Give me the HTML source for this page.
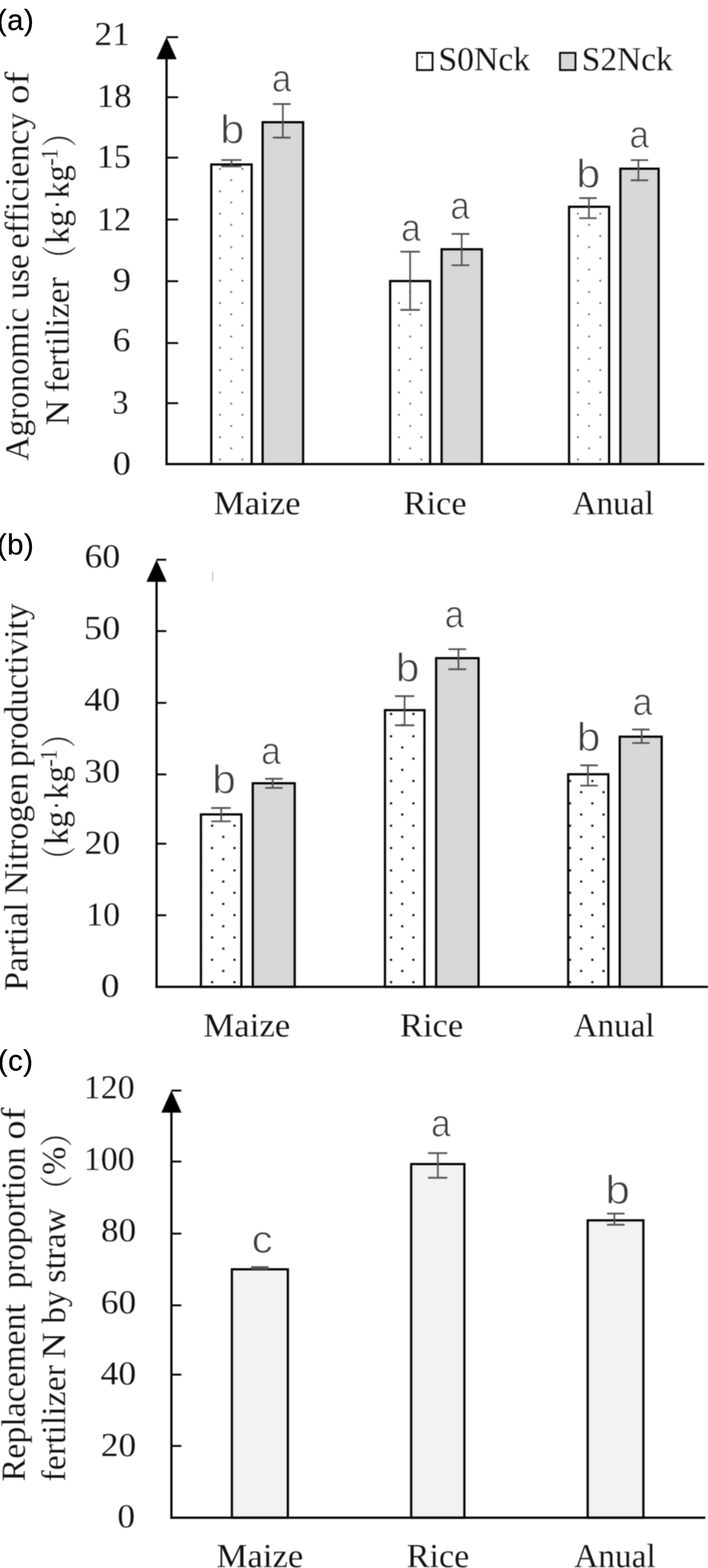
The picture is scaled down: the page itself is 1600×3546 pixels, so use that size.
<!DOCTYPE html>
<html lang="en">
<head>
<meta charset="utf-8">
<title>Nitrogen use efficiency charts</title>
<style>
html,body{margin:0;padding:0;background:#fff;}
body{width:1600px;height:3546px;overflow:hidden;}
svg{display:block;}
</style>
</head>
<body>
<svg width="1600" height="3546" viewBox="0 0 1600 3546">
<defs>
<pattern id="dots" patternUnits="userSpaceOnUse" x="495.1" y="380" width="50.55" height="50.55">
<rect x="0.2" y="0.2" width="3.8" height="3.8" fill="#5a5a5a"/>
<rect x="25.48" y="25.48" width="3.8" height="3.8" fill="#5a5a5a"/>
</pattern>
<pattern id="dotsb" patternUnits="userSpaceOnUse" x="476.8" y="1864.8" width="50.55" height="50.55">
<rect x="0" y="0" width="5" height="5" rx="1.5" fill="#0c0c0c"/>
<rect x="25.28" y="25.28" width="5" height="5" rx="1.5" fill="#0c0c0c"/>
</pattern>
<filter id="soft" filterUnits="userSpaceOnUse" x="0" y="0" width="1600" height="3546" color-interpolation-filters="sRGB">
<feGaussianBlur stdDeviation="0.9"/>
</filter>
</defs>
<rect width="1600" height="3546" fill="#fff"/>
<g filter="url(#soft)">
<rect width="1600" height="3546" fill="#fff"/>

<g id="panel-a">
<text transform="translate(64,1042.21) rotate(-90) scale(0.7603,0.7600)" font-family='"Liberation Serif", serif' font-size="100" fill="#101010" stroke="#fff" stroke-width="0.3" stroke-linejoin="round" vector-effect="non-scaling-stroke">Agronomic</text>
<text transform="translate(64,676.3) rotate(-90) scale(0.7635,0.7600)" font-family='"Liberation Serif", serif' font-size="100" fill="#101010" stroke="#fff" stroke-width="0.3" stroke-linejoin="round" vector-effect="non-scaling-stroke">use</text>
<text transform="translate(64,561.94) rotate(-90) scale(0.7726,0.7600)" font-family='"Liberation Serif", serif' font-size="100" fill="#101010" stroke="#fff" stroke-width="0.3" stroke-linejoin="round" vector-effect="non-scaling-stroke">efficiency</text>
<text transform="translate(64,235.56) rotate(-90) scale(0.8830,0.7600)" font-family='"Liberation Serif", serif' font-size="100" fill="#101010" stroke="#fff" stroke-width="0.3" stroke-linejoin="round" vector-effect="non-scaling-stroke">of</text>
<text transform="translate(155,962.07) rotate(-90) scale(0.8059,0.7600)" font-family='"Liberation Serif", serif' font-size="100" fill="#101010" stroke="#fff" stroke-width="0.3" stroke-linejoin="round" vector-effect="non-scaling-stroke">N</text>
<text transform="translate(155,887.42) rotate(-90) scale(0.7565,0.7600)" font-family='"Liberation Serif", serif' font-size="100" fill="#101010" stroke="#fff" stroke-width="0.3" stroke-linejoin="round" vector-effect="non-scaling-stroke">fertilizer</text>
<text transform="translate(164.14,616.87) rotate(-90) scale(0.6226,0.8064)" font-family='"Liberation Serif", "Noto Serif CJK SC", serif' font-size="100" fill="#1c1c1c" stroke="#fff" stroke-width="0.4" stroke-linejoin="round" vector-effect="non-scaling-stroke">（</text>
<text transform="translate(155,551.69) rotate(-90) scale(0.7677,0.7600)" font-family='"Liberation Serif", serif' font-size="100" fill="#101010" stroke="#fff" stroke-width="0.3" stroke-linejoin="round" vector-effect="non-scaling-stroke">kg</text>
<text transform="translate(155,470.96) rotate(-90) scale(0.4936,0.7600)" font-family='"Liberation Serif", serif' font-size="100" fill="#101010" stroke="#fff" stroke-width="0.3" stroke-linejoin="round" vector-effect="non-scaling-stroke">·</text>
<text transform="translate(155,448.66) rotate(-90) scale(0.7531,0.7600)" font-family='"Liberation Serif", serif' font-size="100" fill="#101010" stroke="#fff" stroke-width="0.3" stroke-linejoin="round" vector-effect="non-scaling-stroke">kg</text>
<text transform="translate(130.5,375.81) rotate(-90) scale(0.5500,0.5200)" font-family='"Liberation Serif", serif' font-size="100" fill="#101010" stroke="#fff" stroke-width="0.3" stroke-linejoin="round" vector-effect="non-scaling-stroke">-</text>
<text transform="translate(130.15,360.44) rotate(-90) scale(0.4908,0.5455)" font-family='"Liberation Serif", serif' font-size="100" fill="#101010" stroke="#fff" stroke-width="0.3" stroke-linejoin="round" vector-effect="non-scaling-stroke">1</text>
<text transform="translate(164.14,332.42) rotate(-90) scale(0.6748,0.8064)" font-family='"Liberation Serif", "Noto Serif CJK SC", serif' font-size="100" fill="#1c1c1c" stroke="#fff" stroke-width="0.4" stroke-linejoin="round" vector-effect="non-scaling-stroke">）</text>
<text transform="translate(213.45,101.5) scale(0.8000,0.7600)" font-family='"Liberation Serif", serif' font-size="100" fill="#101010" stroke="#fff" stroke-width="0.3" stroke-linejoin="round" vector-effect="non-scaling-stroke">21</text>
<text transform="translate(218.44,242.3) scale(0.7897,0.7600)" font-family='"Liberation Serif", serif' font-size="100" fill="#101010" stroke="#fff" stroke-width="0.3" stroke-linejoin="round" vector-effect="non-scaling-stroke">18</text>
<text transform="translate(218.59,379) scale(0.7725,0.7600)" font-family='"Liberation Serif", serif' font-size="100" fill="#101010" stroke="#fff" stroke-width="0.3" stroke-linejoin="round" vector-effect="non-scaling-stroke">15</text>
<text transform="translate(218.47,520.6) scale(0.7860,0.7600)" font-family='"Liberation Serif", serif' font-size="100" fill="#101010" stroke="#fff" stroke-width="0.3" stroke-linejoin="round" vector-effect="non-scaling-stroke">12</text>
<text transform="translate(254.66,657.5) scale(0.8281,0.7600)" font-family='"Liberation Serif", serif' font-size="100" fill="#101010" stroke="#fff" stroke-width="0.3" stroke-linejoin="round" vector-effect="non-scaling-stroke">9</text>
<text transform="translate(254.6,793.5) scale(0.8117,0.7600)" font-family='"Liberation Serif", serif' font-size="100" fill="#101010" stroke="#fff" stroke-width="0.3" stroke-linejoin="round" vector-effect="non-scaling-stroke">6</text>
<text transform="translate(253.87,935) scale(0.7321,0.7600)" font-family='"Liberation Serif", serif' font-size="100" fill="#101010" stroke="#fff" stroke-width="0.3" stroke-linejoin="round" vector-effect="non-scaling-stroke">3</text>
<text transform="translate(254.77,1073) scale(0.8212,0.7600)" font-family='"Liberation Serif", serif' font-size="100" fill="#101010" stroke="#fff" stroke-width="0.3" stroke-linejoin="round" vector-effect="non-scaling-stroke">0</text>
<rect x="477.5" y="372" width="91.2" height="677.6" fill="#fff"/>
<rect x="477.5" y="372" width="91.2" height="677.6" fill="url(#dots)" stroke="#000" stroke-width="5.0"/>
<rect x="593.5" y="276.4" width="91.5" height="773.2" fill="#d8d8d8" stroke="#000" stroke-width="5.0"/>
<rect x="881.7" y="635.6" width="90.3" height="414.0" fill="#fff"/>
<rect x="881.7" y="635.6" width="90.3" height="414.0" fill="url(#dots)" stroke="#000" stroke-width="5.0"/>
<rect x="998" y="563.7" width="91.0" height="485.9" fill="#d8d8d8" stroke="#000" stroke-width="5.0"/>
<rect x="1286" y="467.6" width="90.5" height="582.0" fill="#fff"/>
<rect x="1286" y="467.6" width="90.5" height="582.0" fill="url(#dots)" stroke="#000" stroke-width="5.0"/>
<rect x="1402" y="381.5" width="86.4" height="668.1" fill="#d8d8d8" stroke="#000" stroke-width="5.0"/>
<line x1="376.4" y1="132" x2="376.4" y2="1052.1" stroke="#000" stroke-width="5.0"/>
<line x1="373.9" y1="1049.6" x2="1591.5" y2="1049.6" stroke="#000" stroke-width="5.0"/>
<polygon points="376.4,84 353.59999999999997,134 399.2,134" fill="#000"/>
<line x1="376.4" y1="219.9" x2="402.59999999999997" y2="219.9" stroke="#000" stroke-width="4.2"/>
<line x1="376.4" y1="356.5" x2="402.59999999999997" y2="356.5" stroke="#000" stroke-width="4.2"/>
<line x1="376.4" y1="496.5" x2="402.59999999999997" y2="496.5" stroke="#000" stroke-width="4.2"/>
<line x1="376.4" y1="635.9" x2="402.59999999999997" y2="635.9" stroke="#000" stroke-width="4.2"/>
<line x1="376.4" y1="775.8" x2="402.59999999999997" y2="775.8" stroke="#000" stroke-width="4.2"/>
<line x1="376.4" y1="911.8" x2="402.59999999999997" y2="911.8" stroke="#000" stroke-width="4.2"/>
<line x1="376.4" y1="84" x2="402.59999999999997" y2="84" stroke="#000" stroke-width="4.2"/>
<path d="M500.3,361.9H545.7M500.3,376.4H545.7" stroke="#505050" stroke-width="3.9" fill="none"/>
<path d="M523.1,361.9V376.4" stroke="#505050" stroke-width="3.7" fill="none"/>
<path d="M616.6,235.3H656.9M616.6,311.2H656.9" stroke="#505050" stroke-width="3.9" fill="none"/>
<path d="M639.2,235.3V311.2" stroke="#505050" stroke-width="3.7" fill="none"/>
<path d="M904.7,569.3H949M904.7,700.8H949" stroke="#505050" stroke-width="3.9" fill="none"/>
<path d="M926.8,569.3V700.8" stroke="#505050" stroke-width="3.7" fill="none"/>
<path d="M1020.6,529H1060.9M1020.6,599.9H1060.9" stroke="#505050" stroke-width="3.9" fill="none"/>
<path d="M1043.4,529V599.9" stroke="#505050" stroke-width="3.7" fill="none"/>
<path d="M1309.1,448H1348.3M1309.1,493.4H1348.3" stroke="#505050" stroke-width="3.9" fill="none"/>
<path d="M1330.9,448V493.4" stroke="#505050" stroke-width="3.7" fill="none"/>
<path d="M1425.5,362.1H1464.6M1425.5,407.7H1464.6" stroke="#505050" stroke-width="3.9" fill="none"/>
<path d="M1442.7,362.1V407.7" stroke="#505050" stroke-width="3.7" fill="none"/>
<text transform="translate(497.6,323.6) scale(0.9844,0.9048)" font-family='"Liberation Sans", sans-serif' font-size="100" fill="#3c3c3c" stroke="#fff" stroke-width="2.0" stroke-linejoin="round" vector-effect="non-scaling-stroke">b</text>
<text transform="translate(614.22,207.34) scale(0.7942,0.8621)" font-family='"Liberation Sans", sans-serif' font-size="100" fill="#3c3c3c" stroke="#fff" stroke-width="2.0" stroke-linejoin="round" vector-effect="non-scaling-stroke">a</text>
<text transform="translate(906.37,545.24) scale(0.8078,0.8621)" font-family='"Liberation Sans", sans-serif' font-size="100" fill="#3c3c3c" stroke="#fff" stroke-width="2.0" stroke-linejoin="round" vector-effect="non-scaling-stroke">a</text>
<text transform="translate(1017.65,495.34) scale(0.7883,0.8621)" font-family='"Liberation Sans", sans-serif' font-size="100" fill="#3c3c3c" stroke="#fff" stroke-width="2.0" stroke-linejoin="round" vector-effect="non-scaling-stroke">a</text>
<text transform="translate(1302.14,424.4) scale(0.9778,0.9048)" font-family='"Liberation Sans", sans-serif' font-size="100" fill="#3c3c3c" stroke="#fff" stroke-width="2.0" stroke-linejoin="round" vector-effect="non-scaling-stroke">b</text>
<text transform="translate(1422.62,333.84) scale(0.7961,0.8621)" font-family='"Liberation Sans", sans-serif' font-size="100" fill="#3c3c3c" stroke="#fff" stroke-width="2.0" stroke-linejoin="round" vector-effect="non-scaling-stroke">a</text>
<text transform="translate(483.09,1162.6) scale(0.7852,0.7600)" font-family='"Liberation Serif", serif' font-size="100" fill="#101010" stroke="#fff" stroke-width="0.3" stroke-linejoin="round" vector-effect="non-scaling-stroke">Maize</text>
<text transform="translate(911.71,1162.6) scale(0.7791,0.7600)" font-family='"Liberation Serif", serif' font-size="100" fill="#101010" stroke="#fff" stroke-width="0.3" stroke-linejoin="round" vector-effect="non-scaling-stroke">Rice</text>
<text transform="translate(1293.4,1162.6) scale(0.7544,0.7600)" font-family='"Liberation Serif", serif' font-size="100" fill="#101010" stroke="#fff" stroke-width="0.3" stroke-linejoin="round" vector-effect="non-scaling-stroke">Anual</text>
<rect x="942.5" y="119.5" width="35" height="39" fill="#fff" stroke="#000" stroke-width="4"/>
<rect x="952" y="127" width="3.5" height="3.5" fill="#444"/>
<text transform="translate(990.71,159.4) scale(0.7620,0.7600)" font-family='"Liberation Serif", serif' font-size="100" fill="#101010" stroke="#fff" stroke-width="0.3" stroke-linejoin="round" vector-effect="non-scaling-stroke">S0Nck</text>
<rect x="1265.5" y="119.5" width="35" height="39" fill="#d9d9d9" stroke="#000" stroke-width="4"/>
<text transform="translate(1314.76,159.4) scale(0.7544,0.7600)" font-family='"Liberation Serif", serif' font-size="100" fill="#101010" stroke="#fff" stroke-width="0.3" stroke-linejoin="round" vector-effect="non-scaling-stroke">S2Nck</text>
</g>
<g id="panel-b">
<text transform="translate(62,2240.65) rotate(-90) scale(0.7645,0.7600)" font-family='"Liberation Serif", serif' font-size="100" fill="#101010" stroke="#fff" stroke-width="0.3" stroke-linejoin="round" vector-effect="non-scaling-stroke">Partial</text>
<text transform="translate(62,2024.09) rotate(-90) scale(0.7775,0.7600)" font-family='"Liberation Serif", serif' font-size="100" fill="#101010" stroke="#fff" stroke-width="0.3" stroke-linejoin="round" vector-effect="non-scaling-stroke">Nitrogen</text>
<text transform="translate(62,1734.69) rotate(-90) scale(0.7575,0.7600)" font-family='"Liberation Serif", serif' font-size="100" fill="#101010" stroke="#fff" stroke-width="0.3" stroke-linejoin="round" vector-effect="non-scaling-stroke">productivity</text>
<text transform="translate(162.34,1975.87) rotate(-90) scale(0.6226,0.8064)" font-family='"Liberation Serif", "Noto Serif CJK SC", serif' font-size="100" fill="#1c1c1c" stroke="#fff" stroke-width="0.4" stroke-linejoin="round" vector-effect="non-scaling-stroke">（</text>
<text transform="translate(153,1910.69) rotate(-90) scale(0.7677,0.7600)" font-family='"Liberation Serif", serif' font-size="100" fill="#101010" stroke="#fff" stroke-width="0.3" stroke-linejoin="round" vector-effect="non-scaling-stroke">kg</text>
<text transform="translate(153,1829.96) rotate(-90) scale(0.4936,0.7600)" font-family='"Liberation Serif", serif' font-size="100" fill="#101010" stroke="#fff" stroke-width="0.3" stroke-linejoin="round" vector-effect="non-scaling-stroke">·</text>
<text transform="translate(153,1807.66) rotate(-90) scale(0.7531,0.7600)" font-family='"Liberation Serif", serif' font-size="100" fill="#101010" stroke="#fff" stroke-width="0.3" stroke-linejoin="round" vector-effect="non-scaling-stroke">kg</text>
<text transform="translate(128.5,1734.81) rotate(-90) scale(0.5500,0.5200)" font-family='"Liberation Serif", serif' font-size="100" fill="#101010" stroke="#fff" stroke-width="0.3" stroke-linejoin="round" vector-effect="non-scaling-stroke">-</text>
<text transform="translate(128.35,1719.44) rotate(-90) scale(0.4908,0.5455)" font-family='"Liberation Serif", serif' font-size="100" fill="#101010" stroke="#fff" stroke-width="0.3" stroke-linejoin="round" vector-effect="non-scaling-stroke">1</text>
<text transform="translate(162.34,1691.42) rotate(-90) scale(0.6748,0.8064)" font-family='"Liberation Serif", "Noto Serif CJK SC", serif' font-size="100" fill="#1c1c1c" stroke="#fff" stroke-width="0.4" stroke-linejoin="round" vector-effect="non-scaling-stroke">）</text>
<text transform="translate(190.92,1282.6) scale(0.8076,0.7600)" font-family='"Liberation Serif", serif' font-size="100" fill="#101010" stroke="#fff" stroke-width="0.3" stroke-linejoin="round" vector-effect="non-scaling-stroke">60</text>
<text transform="translate(189.63,1445) scale(0.8210,0.7600)" font-family='"Liberation Serif", serif' font-size="100" fill="#101010" stroke="#fff" stroke-width="0.3" stroke-linejoin="round" vector-effect="non-scaling-stroke">50</text>
<text transform="translate(190.22,1606.7) scale(0.8149,0.7600)" font-family='"Liberation Serif", serif' font-size="100" fill="#101010" stroke="#fff" stroke-width="0.3" stroke-linejoin="round" vector-effect="non-scaling-stroke">40</text>
<text transform="translate(190.49,1769.2) scale(0.8120,0.7600)" font-family='"Liberation Serif", serif' font-size="100" fill="#101010" stroke="#fff" stroke-width="0.3" stroke-linejoin="round" vector-effect="non-scaling-stroke">30</text>
<text transform="translate(190.92,1930.8) scale(0.8076,0.7600)" font-family='"Liberation Serif", serif' font-size="100" fill="#101010" stroke="#fff" stroke-width="0.3" stroke-linejoin="round" vector-effect="non-scaling-stroke">20</text>
<text transform="translate(194.51,2092.8) scale(0.7703,0.7600)" font-family='"Liberation Serif", serif' font-size="100" fill="#101010" stroke="#fff" stroke-width="0.3" stroke-linejoin="round" vector-effect="non-scaling-stroke">10</text>
<text transform="translate(227.99,2253.8) scale(0.8424,0.7600)" font-family='"Liberation Serif", serif' font-size="100" fill="#101010" stroke="#fff" stroke-width="0.3" stroke-linejoin="round" vector-effect="non-scaling-stroke">0</text>
<rect x="454.1" y="1841.8" width="91.4" height="390.0" fill="#fff"/>
<rect x="454.1" y="1841.8" width="91.4" height="390.0" fill="url(#dotsb)" stroke="#000" stroke-width="5.0"/>
<rect x="571.2" y="1771.3" width="94.8" height="460.5" fill="#d8d8d8" stroke="#000" stroke-width="5.0"/>
<rect x="870" y="1606" width="89.3" height="625.8" fill="#fff"/>
<rect x="870" y="1606" width="89.3" height="625.8" fill="url(#dotsb)" stroke="#000" stroke-width="5.0"/>
<rect x="985.6" y="1488.4" width="95.9" height="743.4" fill="#d8d8d8" stroke="#000" stroke-width="5.0"/>
<rect x="1284" y="1751" width="90.8" height="480.8" fill="#fff"/>
<rect x="1284" y="1751" width="90.8" height="480.8" fill="url(#dotsb)" stroke="#000" stroke-width="5.0"/>
<rect x="1400.5" y="1666" width="94.8" height="565.8" fill="#d8d8d8" stroke="#000" stroke-width="5.0"/>
<line x1="353.8" y1="1313.8" x2="353.8" y2="2234.3" stroke="#000" stroke-width="5.0"/>
<line x1="351.3" y1="2231.8" x2="1600" y2="2231.8" stroke="#000" stroke-width="5.0"/>
<polygon points="353.8,1265.8 331.0,1315.8 376.6,1315.8" fill="#000"/>
<line x1="353.8" y1="1265.8" x2="375.8" y2="1265.8" stroke="#000" stroke-width="4.2"/>
<line x1="353.8" y1="1427.2" x2="375.8" y2="1427.2" stroke="#000" stroke-width="4.2"/>
<line x1="353.8" y1="1589.5" x2="375.8" y2="1589.5" stroke="#000" stroke-width="4.2"/>
<line x1="353.8" y1="1751.3" x2="375.8" y2="1751.3" stroke="#000" stroke-width="4.2"/>
<line x1="353.8" y1="1908" x2="375.8" y2="1908" stroke="#000" stroke-width="4.2"/>
<line x1="353.8" y1="2069.8" x2="375.8" y2="2069.8" stroke="#000" stroke-width="4.2"/>
<path d="M477.2,1827.3H521.6M477.2,1857.4H521.6" stroke="#505050" stroke-width="3.9" fill="none"/>
<path d="M499.9,1827.3V1857.4" stroke="#505050" stroke-width="3.7" fill="none"/>
<path d="M599.3,1761.3H638.7M599.3,1781.9H638.7" stroke="#505050" stroke-width="3.9" fill="none"/>
<path d="M616.3,1761.3V1781.9" stroke="#505050" stroke-width="3.7" fill="none"/>
<path d="M892.6,1574.2H936.2M892.6,1640.2H936.2" stroke="#505050" stroke-width="3.9" fill="none"/>
<path d="M914.3,1574.2V1640.2" stroke="#505050" stroke-width="3.7" fill="none"/>
<path d="M1013.2,1468.1H1053.5M1013.2,1513.5H1053.5" stroke="#505050" stroke-width="3.9" fill="none"/>
<path d="M1036.1,1468.1V1513.5" stroke="#505050" stroke-width="3.7" fill="none"/>
<path d="M1311.4,1730.7H1351M1311.4,1776.6H1351" stroke="#505050" stroke-width="3.9" fill="none"/>
<path d="M1328.6,1730.7V1776.6" stroke="#505050" stroke-width="3.7" fill="none"/>
<path d="M1428.4,1649.8H1468M1428.4,1680.4H1468" stroke="#505050" stroke-width="3.9" fill="none"/>
<path d="M1450.1,1649.8V1680.4" stroke="#505050" stroke-width="3.7" fill="none"/>
<text transform="translate(479.45,1793.5) scale(0.9622,0.9048)" font-family='"Liberation Sans", sans-serif' font-size="100" fill="#3c3c3c" stroke="#fff" stroke-width="2.0" stroke-linejoin="round" vector-effect="non-scaling-stroke">b</text>
<text transform="translate(590.08,1728.14) scale(0.8058,0.8621)" font-family='"Liberation Sans", sans-serif' font-size="100" fill="#3c3c3c" stroke="#fff" stroke-width="2.0" stroke-linejoin="round" vector-effect="non-scaling-stroke">a</text>
<text transform="translate(894.23,1540.6) scale(0.9644,0.9048)" font-family='"Liberation Sans", sans-serif' font-size="100" fill="#3c3c3c" stroke="#fff" stroke-width="2.0" stroke-linejoin="round" vector-effect="non-scaling-stroke">b</text>
<text transform="translate(1004.96,1419.44) scale(0.7864,0.8621)" font-family='"Liberation Sans", sans-serif' font-size="100" fill="#3c3c3c" stroke="#fff" stroke-width="2.0" stroke-linejoin="round" vector-effect="non-scaling-stroke">a</text>
<text transform="translate(1303.56,1697.8) scale(0.9600,0.9048)" font-family='"Liberation Sans", sans-serif' font-size="100" fill="#3c3c3c" stroke="#fff" stroke-width="2.0" stroke-linejoin="round" vector-effect="non-scaling-stroke">b</text>
<text transform="translate(1429.56,1617.04) scale(0.8097,0.8621)" font-family='"Liberation Sans", sans-serif' font-size="100" fill="#3c3c3c" stroke="#fff" stroke-width="2.0" stroke-linejoin="round" vector-effect="non-scaling-stroke">a</text>
<text transform="translate(459.39,2344.2) scale(0.7869,0.7600)" font-family='"Liberation Serif", serif' font-size="100" fill="#101010" stroke="#fff" stroke-width="0.3" stroke-linejoin="round" vector-effect="non-scaling-stroke">Maize</text>
<text transform="translate(904.01,2344.2) scale(0.7791,0.7600)" font-family='"Liberation Serif", serif' font-size="100" fill="#101010" stroke="#fff" stroke-width="0.3" stroke-linejoin="round" vector-effect="non-scaling-stroke">Rice</text>
<text transform="translate(1296,2344.2) scale(0.7503,0.7600)" font-family='"Liberation Serif", serif' font-size="100" fill="#101010" stroke="#fff" stroke-width="0.3" stroke-linejoin="round" vector-effect="non-scaling-stroke">Anual</text>
<line x1="480.6" y1="1293" x2="480.6" y2="1315" stroke="#b4b4b4" stroke-width="2"/>
</g>
<g id="panel-c">
<text transform="translate(55.9,3350.26) rotate(-90) scale(0.7684,0.7600)" font-family='"Liberation Serif", serif' font-size="100" fill="#101010" stroke="#fff" stroke-width="0.3" stroke-linejoin="round" vector-effect="non-scaling-stroke">Replacement</text>
<text transform="translate(55.9,2913.99) rotate(-90) scale(0.7568,0.7600)" font-family='"Liberation Serif", serif' font-size="100" fill="#101010" stroke="#fff" stroke-width="0.3" stroke-linejoin="round" vector-effect="non-scaling-stroke">proportion</text>
<text transform="translate(55.9,2577.22) rotate(-90) scale(0.8717,0.7600)" font-family='"Liberation Serif", serif' font-size="100" fill="#101010" stroke="#fff" stroke-width="0.3" stroke-linejoin="round" vector-effect="non-scaling-stroke">of</text>
<text transform="translate(146.7,3350.45) rotate(-90) scale(0.7653,0.7600)" font-family='"Liberation Serif", serif' font-size="100" fill="#101010" stroke="#fff" stroke-width="0.3" stroke-linejoin="round" vector-effect="non-scaling-stroke">fertilizer</text>
<text transform="translate(146.7,3072.61) rotate(-90) scale(0.8223,0.7600)" font-family='"Liberation Serif", serif' font-size="100" fill="#101010" stroke="#fff" stroke-width="0.3" stroke-linejoin="round" vector-effect="non-scaling-stroke">N</text>
<text transform="translate(146.7,2993.55) rotate(-90) scale(0.7509,0.7600)" font-family='"Liberation Serif", serif' font-size="100" fill="#101010" stroke="#fff" stroke-width="0.3" stroke-linejoin="round" vector-effect="non-scaling-stroke">by</text>
<text transform="translate(146.7,2901.17) rotate(-90) scale(0.7793,0.7600)" font-family='"Liberation Serif", serif' font-size="100" fill="#101010" stroke="#fff" stroke-width="0.3" stroke-linejoin="round" vector-effect="non-scaling-stroke">straw</text>
<text transform="translate(155.22,2726.04) rotate(-90) scale(0.6852,0.7519)" font-family='"Liberation Serif", "Noto Serif CJK SC", serif' font-size="100" fill="#1c1c1c" stroke="#fff" stroke-width="0.4" stroke-linejoin="round" vector-effect="non-scaling-stroke">（</text>
<text transform="translate(146.7,2657.04) rotate(-90) scale(0.7686,0.7600)" font-family='"Liberation Serif", serif' font-size="100" fill="#101010" stroke="#fff" stroke-width="0.3" stroke-linejoin="round" vector-effect="non-scaling-stroke">%</text>
<text transform="translate(155.22,2594.08) rotate(-90) scale(0.6852,0.7519)" font-family='"Liberation Serif", "Noto Serif CJK SC", serif' font-size="100" fill="#1c1c1c" stroke="#fff" stroke-width="0.4" stroke-linejoin="round" vector-effect="non-scaling-stroke">）</text>
<text transform="translate(189.35,2484) scale(0.7658,0.7600)" font-family='"Liberation Serif", serif' font-size="100" fill="#101010" stroke="#fff" stroke-width="0.3" stroke-linejoin="round" vector-effect="non-scaling-stroke">120</text>
<text transform="translate(189.35,2645.7) scale(0.7658,0.7600)" font-family='"Liberation Serif", serif' font-size="100" fill="#101010" stroke="#fff" stroke-width="0.3" stroke-linejoin="round" vector-effect="non-scaling-stroke">100</text>
<text transform="translate(228.17,2807.3) scale(0.7957,0.7600)" font-family='"Liberation Serif", serif' font-size="100" fill="#101010" stroke="#fff" stroke-width="0.3" stroke-linejoin="round" vector-effect="non-scaling-stroke">80</text>
<text transform="translate(227.75,2969.5) scale(0.8000,0.7600)" font-family='"Liberation Serif", serif' font-size="100" fill="#101010" stroke="#fff" stroke-width="0.3" stroke-linejoin="round" vector-effect="non-scaling-stroke">60</text>
<text transform="translate(227.24,3131) scale(0.8053,0.7600)" font-family='"Liberation Serif", serif' font-size="100" fill="#101010" stroke="#fff" stroke-width="0.3" stroke-linejoin="round" vector-effect="non-scaling-stroke">40</text>
<text transform="translate(227.75,3293.2) scale(0.8000,0.7600)" font-family='"Liberation Serif", serif' font-size="100" fill="#101010" stroke="#fff" stroke-width="0.3" stroke-linejoin="round" vector-effect="non-scaling-stroke">20</text>
<text transform="translate(265.35,3454.3) scale(0.8000,0.7600)" font-family='"Liberation Serif", serif' font-size="100" fill="#101010" stroke="#fff" stroke-width="0.3" stroke-linejoin="round" vector-effect="non-scaling-stroke">0</text>
<rect x="524" y="2870.5" width="126.5" height="561.8" fill="#f2f2f2" stroke="#000" stroke-width="5.0"/>
<rect x="929.2" y="2632.5" width="120.3" height="799.8" fill="#f2f2f2" stroke="#000" stroke-width="5.0"/>
<rect x="1328.1" y="2759.8" width="125.9" height="672.5" fill="#f2f2f2" stroke="#000" stroke-width="5.0"/>
<line x1="387.4" y1="2514.3" x2="387.4" y2="3434.8" stroke="#000" stroke-width="5.0"/>
<line x1="384.9" y1="3432.3" x2="1594" y2="3432.3" stroke="#000" stroke-width="5.0"/>
<polygon points="387.4,2466.3 364.59999999999997,2516.3 410.2,2516.3" fill="#000"/>
<line x1="387.4" y1="2466.3" x2="409.79999999999995" y2="2466.3" stroke="#000" stroke-width="4.2"/>
<line x1="387.4" y1="2626.8" x2="409.79999999999995" y2="2626.8" stroke="#000" stroke-width="4.2"/>
<line x1="387.4" y1="2789.8" x2="409.79999999999995" y2="2789.8" stroke="#000" stroke-width="4.2"/>
<line x1="387.4" y1="2952" x2="409.79999999999995" y2="2952" stroke="#000" stroke-width="4.2"/>
<line x1="387.4" y1="3108.7" x2="409.79999999999995" y2="3108.7" stroke="#000" stroke-width="4.2"/>
<line x1="387.4" y1="3270" x2="409.79999999999995" y2="3270" stroke="#000" stroke-width="4.2"/>
<path d="M967.1,2607.8H1010.7M967.1,2663.5H1010.7" stroke="#505050" stroke-width="3.9" fill="none"/>
<path d="M989.5,2607.8V2663.5" stroke="#505050" stroke-width="3.7" fill="none"/>
<path d="M1371.7,2744.5H1411.5M1371.7,2769.8H1411.5" stroke="#505050" stroke-width="3.9" fill="none"/>
<path d="M1388.4,2744.5V2769.8" stroke="#505050" stroke-width="3.7" fill="none"/>
<text transform="translate(568.76,2833.14) scale(0.9512,0.8621)" font-family='"Liberation Sans", sans-serif' font-size="100" fill="#3c3c3c" stroke="#fff" stroke-width="2.0" stroke-linejoin="round" vector-effect="non-scaling-stroke">c</text>
<text transform="translate(973.89,2570.04) scale(0.8019,0.8621)" font-family='"Liberation Sans", sans-serif' font-size="100" fill="#3c3c3c" stroke="#fff" stroke-width="2.0" stroke-linejoin="round" vector-effect="non-scaling-stroke">a</text>
<text transform="translate(1368.1,2721.8) scale(1.0000,0.9048)" font-family='"Liberation Sans", sans-serif' font-size="100" fill="#3c3c3c" stroke="#fff" stroke-width="2.0" stroke-linejoin="round" vector-effect="non-scaling-stroke">b</text>
<text transform="translate(489.29,3544) scale(0.7852,0.7600)" font-family='"Liberation Serif", serif' font-size="100" fill="#101010" stroke="#fff" stroke-width="0.3" stroke-linejoin="round" vector-effect="non-scaling-stroke">Maize</text>
<text transform="translate(918.92,3544) scale(0.7734,0.7600)" font-family='"Liberation Serif", serif' font-size="100" fill="#101010" stroke="#fff" stroke-width="0.3" stroke-linejoin="round" vector-effect="non-scaling-stroke">Rice</text>
<text transform="translate(1297.5,3544) scale(0.7548,0.7600)" font-family='"Liberation Serif", serif' font-size="100" fill="#101010" stroke="#fff" stroke-width="0.3" stroke-linejoin="round" vector-effect="non-scaling-stroke">Anual</text>
<rect x="567.4" y="2863.6" width="39.4" height="7.6" fill="#505050"/>
</g>
</g>
<g id="panel-labels">
<text x="-7" y="68.4" font-family='"Liberation Sans", sans-serif' font-size="66" letter-spacing="1.3" fill="#000" stroke="#000" stroke-width="0.5">(a)</text>
<text x="-7" y="1254" font-family='"Liberation Sans", sans-serif' font-size="66" letter-spacing="1.3" fill="#000" stroke="#000" stroke-width="0.5">(b)</text>
<text x="-5" y="2420.5" font-family='"Liberation Sans", sans-serif' font-size="66" letter-spacing="1.3" fill="#000" stroke="#000" stroke-width="0.5">(c)</text>
</g>
</svg>
</body>
</html>
